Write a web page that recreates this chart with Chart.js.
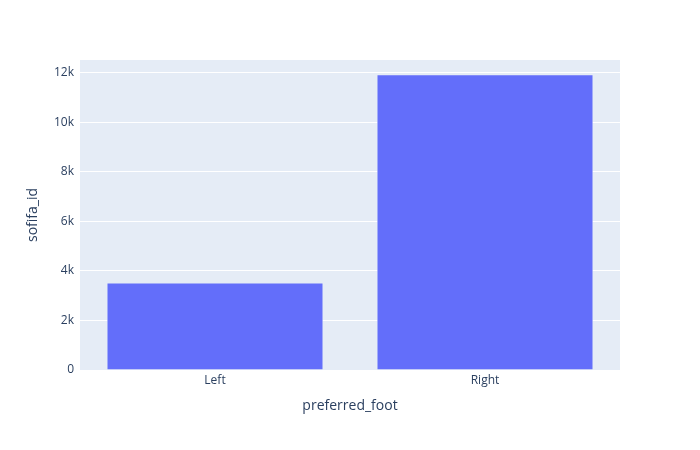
<!DOCTYPE html>
<html>
<head>
<meta charset="utf-8">
<script src="https://cdn.jsdelivr.net/npm/chart.js@4"></script>
<style>
  html, body { margin: 0; padding: 0; background: #fff; }
  #wrap { width: 700px; height: 450px; }
</style>
</head>
<body>
<div id="wrap"><canvas id="chart"></canvas></div>
<script>
var categories = ['Left', 'Right'];
var counts = [3514, 11919];
var yTicks = [0, 2000, 4000, 6000, 8000, 10000, 12000];

var fontFamily = '"Open Sans", Verdana, Arial, sans-serif';
var textColor = '#2a3f5f';

// paint the plot background like plotly
var plotBg = {
    id: 'plotBg',
    beforeDraw: function (chart) {
        var a = chart.chartArea;
        var ctx = chart.ctx;
        ctx.save();
        ctx.fillStyle = '#E5ECF6';
        ctx.fillRect(a.left, a.top, a.right - a.left, a.bottom - a.top);
        ctx.restore();
    }
};

var ctx = document.getElementById('chart');
new Chart(ctx, {
    type: 'bar',
    data: {
        labels: categories,
        datasets: [{
            data: counts,
            backgroundColor: '#636efa',
            borderColor: '#E5ECF6',
            borderWidth: 0.5,
            barPercentage: 0.8,
            categoryPercentage: 1.0
        }]
    },
    options: {
        responsive: true,
        maintainAspectRatio: false,
        animation: false,
        layout: { padding: { left: 0, top: 60, right: 80, bottom: 0 } },
        plugins: {
            legend: { display: false },
            tooltip: { enabled: false }
        },
        scales: {
            x: {
                grid: { display: false, drawTicks: false },
                border: { display: false },
                ticks: { color: textColor, font: { family: fontFamily, size: 12 }, padding: 3 },
                title: {
                    display: true,
                    text: 'preferred_foot',
                    color: textColor,
                    font: { family: fontFamily, size: 14 },
                    padding: { top: 0, bottom: 36 }
                },
                afterFit: function (s) { s.height = 80; }
            },
            y: {
                min: 0,
                max: 12515,
                afterBuildTicks: function (s) {
                    s.ticks = yTicks.map(function (v) { return { value: v }; });
                },
                grid: { color: '#ffffff', lineWidth: 1, drawTicks: false },
                border: { display: false },
                ticks: {
                    color: textColor,
                    font: { family: fontFamily, size: 12 },
                    padding: 6,
                    callback: function (v) { return v === 0 ? '0' : (v / 1000) + 'k'; }
                },
                title: {
                    display: true,
                    text: 'sofifa_id',
                    color: textColor,
                    font: { family: fontFamily, size: 14 },
                    padding: { top: 25, bottom: 0 }
                },
                afterFit: function (s) { s.width = 80; }
            }
        }
    },
    plugins: [plotBg]
});
</script>
</body>
</html>
